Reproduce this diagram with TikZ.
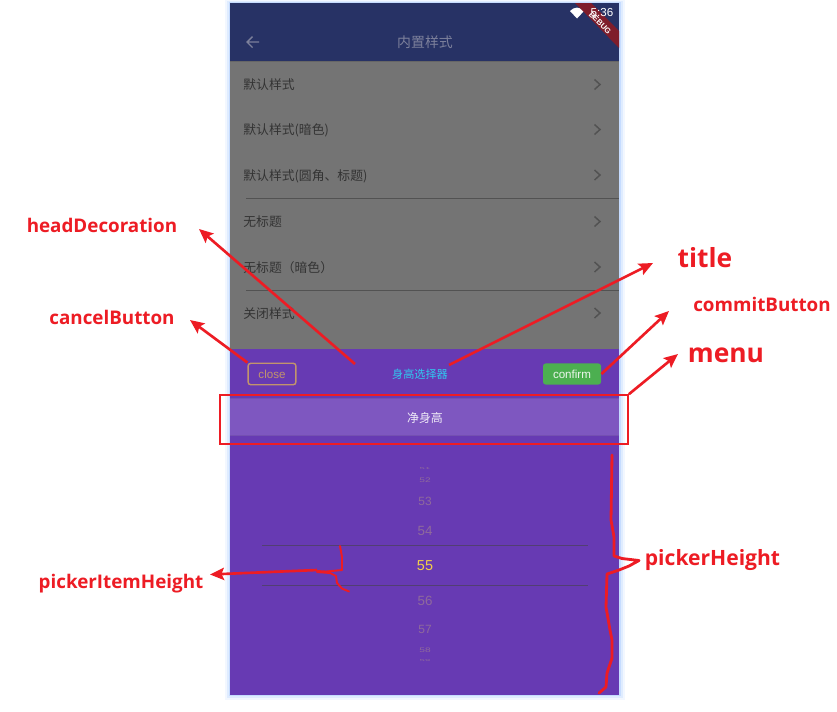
\documentclass[tikz,border=0pt]{standalone}
\usepackage{fontspec}
\usepackage{xcolor}
\setmainfont{Liberation Sans}
\newfontfamily\cjk{Noto Sans CJK SC}
\newfontfamily\notefont{Open Sans}
\usetikzlibrary{arrows.meta}

\definecolor{barblue}{HTML}{273265}
\definecolor{bartext}{HTML}{7C809B}
\definecolor{listgray}{HTML}{747474}
\definecolor{sheetpurple}{HTML}{673AB3}
\definecolor{menupurple}{HTML}{7E57C0}
\definecolor{notered}{HTML}{ED1C24}
\definecolor{ribbonred}{HTML}{7F1D2B}
\definecolor{fadednum}{HTML}{8F6A9C}
\definecolor{closetan}{HTML}{C2946C}
\definecolor{titlecyan}{HTML}{2FCBF0}
\definecolor{confirmgreen}{HTML}{4CAF50}
\definecolor{pickyellow}{HTML}{F2D048}
\definecolor{glowa}{HTML}{F2F7FF}
\definecolor{glowb}{HTML}{DFECFF}
\definecolor{glowc}{HTML}{C6DCFF}

\tikzset{
	note/.style={color=notered, font=\notefont\bfseries\fontsize{10.7}{13}\selectfont, inner sep=0pt},
	bignote/.style={color=notered, font=\notefont\bfseries\fontsize{15}{17}\selectfont, inner sep=0pt},
	noteline/.style={line width=1.5pt, color=notered, -{Stealth[length=8pt, width=7pt, inset=1.5pt]}},
	handline/.style={line width=1.6pt, color=notered, line join=round, line cap=round},
	listitem/.style={anchor=west, color=black!80, font=\cjk\fontsize{7.3}{9}\selectfont, inner sep=0pt},
	chevron/.style={line width=0.85pt, color=black!68},
	divider/.style={line width=0.5pt, color=black!68},
	num/.style={color=fadednum, inner sep=0pt},
	pickline/.style={line width=0.5pt, color=black!50!sheetpurple!85}
}

\begin{document}
\begin{tikzpicture}[x=0.02cm, y=-0.02cm]
	\fill[white] (0,0) rectangle (837,711);
	\useasboundingbox (0,0) rectangle (837,711);
	%
	% phone glow
	\fill[glowa] (225,0) rectangle (625,700);
	\fill[glowb] (227,1) rectangle (623,698);
	\fill[glowc] (229,2) rectangle (621,696);
	%
	% app bar
	\fill[barblue] (230,3) rectangle (619,61);
	\node[color=bartext, font=\cjk\fontsize{7.9}{9}\selectfont, inner sep=0pt] (bartitle) at (425,42.5) {内置样式};
	\draw[line width=0.8pt, color=bartext, line join=miter] (259,42) -- (247,42) (252.5,36.5) -- (247,42) -- (252.5,47.5);
	%
	% status bar
	\fill[white] (570,11) .. controls (574,6.5) and (580,6.5) .. (584,11) -- (577,18.5) -- cycle;
	\fill[ribbonred] (575,3) -- (591,3) -- (619,31) -- (619,48) -- cycle;
	\node[color=white, font=\fontsize{6.6}{8}\selectfont, inner sep=0pt] (clock) at (602,13) {5:36};
	\node[rotate=-45, color=white, font=\bfseries\fontsize{4.4}{5}\selectfont, inner sep=0pt] (debug) at (600,23) {DEBUG};
	%
	% list
	\fill[listgray] (230,61) rectangle (619,349);
	\draw[line width=1pt, color=black!60] (230,61.5) -- (619,61.5);
	\node[listitem] (item1) at (243,85) {默认样式};
	\node[listitem] (item2) at (243,130) {默认样式(暗色)};
	\node[listitem] (item3) at (243,176) {默认样式(圆角、标题)};
	\node[listitem] (item4) at (243,222) {无标题};
	\node[listitem] (item5) at (243,268) {无标题（暗色）};
	\node[listitem] (item6) at (243,314) {关闭样式};
	\draw[chevron] (594.5,79.5) -- (600,84.5) -- (594.5,89.5);
	\draw[chevron] (594.5,124.5) -- (600,129.5) -- (594.5,134.5);
	\draw[chevron] (594.5,170) -- (600,175) -- (594.5,180);
	\draw[chevron] (594.5,216.5) -- (600,221.5) -- (594.5,226.5);
	\draw[chevron] (594.5,262) -- (600,267) -- (594.5,272);
	\draw[chevron] (594.5,308) -- (600,313) -- (594.5,318);
	\draw[divider] (246,198) -- (619,198);
	\draw[divider] (246,290) -- (619,290);
	%
	% picker sheet
	\fill[sheetpurple] (230,349) rectangle (619,695);
	\node[draw=closetan, line width=0.8pt, rounded corners=1.5pt, minimum width=27.2pt, minimum height=12.2pt, inner sep=0pt, text=closetan, font=\fontsize{6.6}{8}\selectfont] (closebtn) at (272,374) {close};
	\node[text=titlecyan, font=\cjk\fontsize{6.35}{8}\selectfont, inner sep=0pt] (pickertitle) at (420,374.5) {身高选择器};
	\node[fill=confirmgreen, rounded corners=1.5pt, minimum width=33pt, minimum height=12pt, inner sep=0pt, text=white!90!confirmgreen, font=\fontsize{6.6}{8}\selectfont] (confirmbtn) at (572,374) {confirm};
	%
	% menu band
	\fill[black!8!menupurple] (230,397.5) rectangle (619,435.5);
	\fill[menupurple] (230,398.5) rectangle (619,434.5);
	\node[text=white!88!menupurple, font=\cjk\fontsize{6.8}{8}\selectfont, inner sep=0pt] (menutext) at (425,417.5) {净身高};
	\node[draw=notered, line width=1.2pt, minimum width=232pt, minimum height=27.6pt, inner sep=0pt] (menubox) at (424,419.5) {};
	%
	% picker numbers
	\draw[pickline] (262,545) -- (588,545);
	\draw[pickline] (262,585) -- (588,585);
	\node[num] (n51) at (425,469) {\fontsize{5.4}{6}\selectfont\scalebox{1}[0.3]{51}};
	\node[num] (n52) at (425,480) {\fontsize{5.8}{7}\selectfont\scalebox{1}[0.65]{52}};
	\node[num] (n53) at (425,501) {\fontsize{6.8}{8}\selectfont 53};
	\node[num] (n54) at (425,530.5) {\fontsize{7.6}{9}\selectfont 54};
	\node[num, color=pickyellow] (n55) at (425,565.5) {\fontsize{8.2}{10}\selectfont 55};
	\node[num] (n56) at (425,600.5) {\fontsize{7.6}{9}\selectfont 56};
	\node[num] (n57) at (425,629.5) {\fontsize{6.8}{8}\selectfont 57};
	\node[num] (n58) at (425,650) {\fontsize{5.8}{7}\selectfont\scalebox{1}[0.65]{58}};
	\node[num] (n59) at (425,661) {\fontsize{5.4}{6}\selectfont\scalebox{1}[0.3]{59}};
	%
	% nodes -- notes
	\node[note] (headnote) at (102,225) {headDecoration};
	\node[note] (cancelnote) at (112,317) {cancelButton};
	\node[bignote] (titlenote) at (705,258) {title};
	\node[note] (commitnote) at (762,304.5) {commitButton};
	\node[bignote] (menunote) at (726,355) {menu};
	\node[note] (itemnote) at (121,583.5) {pickerItemHeight};
	\node[note, font=\notefont\bfseries\fontsize{12}{14}\selectfont] (heightnote) at (712.5,560) {pickerHeight};
	%
	% free ends
	\coordinate (headstart) at (355,364);
	\coordinate (headtip) at (199,229);
	\coordinate (canceltip) at (190,320);
	\coordinate (titlestart) at (449,365);
	\coordinate (titletip) at (653,263);
	\coordinate (committip) at (669,311);
	\coordinate (menutip) at (678,354);
	\coordinate (itemstart) at (317,570);
	\coordinate (itemtip) at (210,574.5);
	%
	% arrows
	\draw[noteline] (headstart) -- (headtip);
	\draw[noteline] (closebtn.north west) -- (canceltip);
	\draw[noteline] (titlestart) -- (titletip);
	\draw[noteline] (confirmbtn.east) -- (committip);
	\draw[noteline] (menubox.north east) -- (menutip);
	\draw[noteline] (itemstart) -- (itemtip);
	%
	% hand drawn brackets
	\draw[handline] (612,455) -- (611,520) -- (614,537) -- (614,556) -- (622,558.5) -- (639,560.5) -- (629,566) -- (619,570) -- (607,574) -- (606,607) -- (610,630) -- (612,640) -- (612,658) -- (607,673) -- (606,687) -- (599,693);
	\draw[handline, line width=1.1pt] (340,546) -- (342,557) -- (342,570) -- (326,571.5) -- (317,571) (317,572) -- (330,573) -- (336,576) -- (337,583) -- (342,588.5) -- (349,591.5);
\end{tikzpicture}
\end{document}
